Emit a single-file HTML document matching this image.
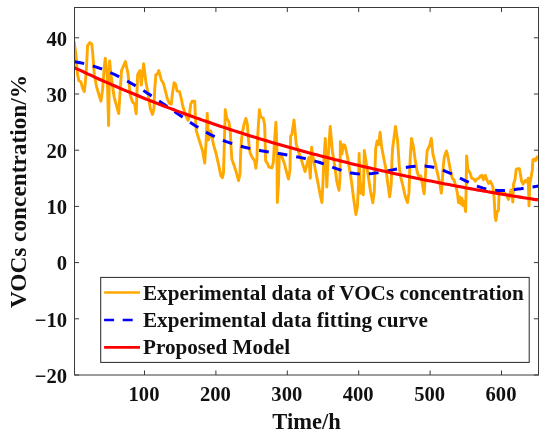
<!DOCTYPE html>
<html><head><meta charset="utf-8"><style>
html,body{margin:0;padding:0;background:#fff}
svg{display:block}
text{font-family:"Liberation Serif",serif;font-weight:bold;fill:#111}
</style></head><body>
<svg width="550" height="435" viewBox="0 0 550 435">
<rect width="550" height="435" fill="#fff"/>
<defs><clipPath id="c"><rect x="74.5" y="7.5" width="464.0" height="367.5"/></clipPath></defs>
<g clip-path="url(#c)" fill="none" stroke-linejoin="round" stroke-linecap="butt">
<path d="M74.1 41.2 L75.9 54.4 L77.4 73.5 L78.8 80.6 L81.0 82.0 L82.5 88.0 L84.3 91.6 L85.4 82.0 L86.5 67.0 L87.6 45.6 L89.9 42.6 L91.8 44.1 L92.8 54.4 L94.3 74.7 L96.5 86.5 L98.7 93.8 L100.9 101.2 L102.6 89.4 L104.1 68.8 L105.3 58.1 L107.2 75.0 L108.6 125.5 L109.6 61.0 L111.0 75.0 L114.1 96.8 L118.7 113.6 L121.5 70.6 L125.4 61.5 L128.0 73.5 L130.3 95.3 L132.5 102.0 L134.7 104.0 L136.2 113.7 L137.6 74.7 L139.9 70.6 L141.3 85.0 L143.6 63.8 L145.9 82.0 L148.1 93.8 L150.3 108.5 L152.5 114.4 L154.0 108.5 L154.7 89.4 L155.9 74.7 L157.6 74.0 L158.8 70.6 L160.3 76.2 L161.3 79.9 L163.5 83.5 L165.0 89.4 L167.2 98.2 L169.4 103.4 L171.3 104.1 L172.6 92.4 L174.1 82.8 L175.6 84.3 L177.1 90.9 L179.4 91.6 L181.2 98.2 L182.9 106.8 L185.9 115.6 L188.1 120.3 L189.4 115.0 L190.7 104.1 L192.2 101.2 L194.7 101.2 L195.4 117.0 L196.2 130.3 L198.8 138.8 L202.5 150.6 L204.7 163.1 L206.2 140.0 L207.2 113.4 L208.5 140.0 L210.8 131.0 L213.5 144.7 L215.7 152.1 L218.7 165.3 L220.9 175.6 L222.4 177.8 L223.5 172.6 L224.1 152.1 L225.3 109.7 L226.8 118.5 L228.8 121.5 L230.2 130.3 L231.2 150.0 L231.9 159.4 L234.1 165.3 L236.8 174.1 L238.5 180.7 L240.0 174.1 L240.7 152.1 L241.5 140.0 L242.5 131.8 L244.0 124.4 L245.9 118.5 L247.4 124.4 L248.4 139.1 L249.3 148.0 L250.3 153.5 L252.5 157.9 L254.7 160.9 L255.9 168.2 L256.9 159.4 L257.6 137.4 L259.4 109.7 L260.9 117.0 L263.1 117.8 L264.6 124.4 L265.3 147.0 L265.6 160.6 L267.5 163.5 L269.0 167.2 L271.9 167.9 L273.4 162.0 L274.1 147.4 L275.9 122.2 L276.9 147.4 L277.3 202.5 L278.5 184.0 L279.3 154.7 L280.7 154.0 L282.2 157.6 L284.4 163.5 L286.6 172.4 L288.5 179.0 L290.0 169.4 L290.4 147.0 L290.6 136.2 L291.8 134.7 L294.0 120.0 L295.4 134.7 L296.2 144.4 L299.1 153.2 L302.1 162.1 L305.0 171.6 L306.8 165.0 L308.7 157.6 L309.7 169.4 L310.3 178.2 L311.2 154.7 L311.6 147.2 L313.1 157.6 L315.3 169.4 L318.2 184.1 L320.4 195.9 L321.9 202.5 L322.9 184.1 L323.8 162.1 L325.3 138.4 L326.8 187.0 L328.0 160.0 L330.2 126.4 L332.4 151.2 L334.6 165.0 L336.8 181.5 L339.0 190.3 L340.0 177.0 L340.4 141.6 L341.9 154.1 L343.4 144.6 L344.9 145.3 L346.3 151.2 L347.8 158.5 L349.3 167.8 L351.5 181.5 L353.7 199.1 L355.9 214.6 L357.4 206.5 L358.5 184.4 L359.1 153.4 L360.0 177.0 L360.6 193.2 L362.0 185.0 L363.3 194.7 L364.3 150.4 L366.2 162.6 L368.4 177.0 L370.6 191.8 L372.8 202.8 L374.3 191.8 L375.0 169.0 L375.7 148.2 L377.2 140.9 L378.7 144.6 L380.1 132.1 L381.6 146.8 L383.8 158.5 L386.0 169.3 L387.5 181.5 L389.7 196.9 L391.2 184.4 L391.9 162.0 L392.6 148.2 L393.8 139.4 L395.5 126.4 L397.5 140.0 L398.5 154.0 L399.4 168.5 L400.9 178.0 L403.1 186.5 L405.3 196.8 L407.5 202.6 L409.0 192.4 L409.7 170.0 L410.3 156.8 L411.5 138.4 L413.4 146.5 L414.9 158.2 L417.1 171.5 L418.5 175.9 L420.7 175.9 L422.2 183.0 L424.1 193.8 L425.1 180.5 L425.9 167.0 L426.2 164.1 L427.1 150.9 L429.6 145.7 L431.3 138.4 L432.9 153.8 L435.4 164.1 L437.6 173.8 L439.9 184.0 L441.3 193.1 L442.4 180.5 L443.2 167.2 L444.3 156.8 L446.5 150.9 L448.2 158.2 L450.1 168.5 L452.4 178.8 L453.8 179.5 L456.0 186.5 L457.5 193.8 L458.5 202.6 L459.7 196.8 L460.9 204.1 L461.9 198.2 L462.9 205.6 L464.1 201.2 L465.6 211.5 L466.1 189.4 L466.6 156.0 L467.9 169.4 L470.1 173.1 L471.6 178.2 L473.8 179.0 L475.3 181.2 L476.8 179.0 L479.0 178.2 L480.4 176.0 L481.9 175.3 L483.4 179.7 L485.3 175.3 L487.1 180.4 L488.5 183.4 L490.3 181.2 L491.8 184.1 L492.9 187.0 L494.1 197.1 L495.1 216.2 L495.9 220.6 L497.1 211.8 L498.5 210.3 L499.1 192.0 L501.8 192.2 L504.7 192.9 L506.9 195.9 L508.4 199.5 L509.9 194.4 L510.9 190.0 L512.1 195.9 L512.8 202.0 L513.5 184.1 L515.0 179.7 L516.2 169.4 L517.6 168.7 L519.4 168.7 L520.6 175.3 L521.6 181.2 L523.1 184.1 L525.3 180.4 L526.8 181.9 L528.2 178.2 L529.0 205.9 L529.7 184.1 L531.2 176.8 L532.4 169.4 L532.9 159.9 L534.4 159.1 L535.6 160.6 L537.1 156.9 L538.5 158.4" stroke="#FFA800" stroke-width="2.9"/>
<path d="M74.5 61.8 L77.4 62.3 L80.3 62.8 L83.3 63.4 L86.2 64.1 L89.1 64.9 L92.0 65.7 L94.9 66.6 L97.8 67.6 L100.8 68.7 L103.7 69.8 L106.6 71.0 L109.5 72.2 L112.4 73.5 L115.4 74.9 L118.3 76.3 L121.2 77.8 L124.1 79.3 L127.0 80.9 L129.9 82.6 L132.9 84.2 L135.8 85.9 L138.7 87.7 L141.6 89.5 L144.5 91.3 L147.5 93.2 L150.4 95.1 L153.3 97.0 L156.2 98.9 L159.1 100.9 L162.0 102.9 L165.0 104.9 L167.9 106.9 L170.8 108.9 L173.7 111.0 L176.6 113.0 L179.6 115.1 L182.5 117.1 L185.4 119.1 L188.3 121.1 L191.2 123.0 L194.1 124.9 L197.1 126.8 L200.0 128.6 L202.9 130.4 L205.8 132.0 L208.7 133.6 L211.7 135.2 L214.6 136.6 L217.5 138.0 L220.4 139.3 L223.3 140.5 L226.2 141.6 L229.2 142.6 L232.1 143.6 L235.0 144.6 L237.9 145.4 L240.8 146.2 L243.8 147.0 L246.7 147.7 L249.6 148.4 L252.5 149.0 L255.4 149.6 L258.3 150.1 L261.3 150.7 L264.2 151.2 L267.1 151.7 L270.0 152.2 L272.9 152.7 L275.9 153.1 L278.8 153.6 L281.7 154.1 L284.6 154.6 L287.5 155.1 L290.4 155.6 L293.4 156.1 L296.3 156.7 L299.2 157.3 L302.1 157.9 L305.0 158.5 L308.0 159.2 L310.9 160.0 L313.8 160.8 L316.7 161.6 L319.6 162.5 L322.6 163.5 L325.5 164.5 L328.4 165.6 L331.3 166.7 L334.2 167.8 L337.1 168.9 L340.1 169.9 L343.0 170.9 L345.9 171.8 L348.8 172.5 L351.7 173.1 L354.7 173.5 L357.6 173.8 L360.5 174.0 L363.4 174.0 L366.3 174.0 L369.2 173.8 L372.2 173.5 L375.1 173.1 L378.0 172.7 L380.9 172.2 L383.8 171.7 L386.8 171.1 L389.7 170.5 L392.6 169.9 L395.5 169.3 L398.4 168.7 L401.3 168.2 L404.3 167.7 L407.2 167.2 L410.1 166.8 L413.0 166.5 L415.9 166.2 L418.9 166.1 L421.8 166.1 L424.7 166.1 L427.6 166.4 L430.5 166.8 L433.4 167.3 L436.4 168.0 L439.3 168.9 L442.2 169.9 L445.1 171.1 L448.0 172.3 L451.0 173.6 L453.9 175.0 L456.8 176.5 L459.7 177.9 L462.6 179.4 L465.5 180.8 L468.5 182.2 L471.4 183.6 L474.3 184.9 L477.2 186.1 L480.1 187.1 L483.1 188.1 L486.0 188.9 L488.9 189.5 L491.8 190.0 L494.7 190.3 L497.6 190.5 L500.6 190.6 L503.5 190.5 L506.4 190.4 L509.3 190.2 L512.2 189.9 L515.2 189.5 L518.1 189.1 L521.0 188.7 L523.9 188.2 L526.8 187.8 L529.7 187.3 L532.7 186.9 L535.6 186.4 L538.5 186.1" stroke="#0000FF" stroke-width="3" stroke-dasharray="9.8 9"/>
<path d="M73.8 67.4 L77.4 69.1 L81.0 70.7 L84.5 72.4 L88.1 74.1 L91.7 75.7 L95.2 77.3 L98.8 79.0 L102.4 80.6 L105.9 82.1 L109.5 83.7 L113.1 85.3 L116.7 86.8 L120.2 88.3 L123.8 89.9 L127.4 91.4 L130.9 92.8 L134.5 94.3 L138.1 95.8 L141.6 97.2 L145.2 98.7 L148.8 100.1 L152.4 101.5 L155.9 102.9 L159.5 104.3 L163.1 105.7 L166.6 107.1 L170.2 108.4 L173.8 109.7 L177.3 111.1 L180.9 112.4 L184.5 113.7 L188.1 115.0 L191.6 116.3 L195.2 117.6 L198.8 118.8 L202.3 120.1 L205.9 121.3 L209.5 122.5 L213.0 123.8 L216.6 125.0 L220.2 126.2 L223.8 127.4 L227.3 128.5 L230.9 129.7 L234.5 130.9 L238.0 132.0 L241.6 133.1 L245.2 134.3 L248.7 135.4 L252.3 136.5 L255.9 137.6 L259.5 138.7 L263.0 139.7 L266.6 140.8 L270.2 141.9 L273.7 142.9 L277.3 144.0 L280.9 145.0 L284.4 146.0 L288.0 147.0 L291.6 148.0 L295.2 149.0 L298.7 150.0 L302.3 151.0 L305.9 152.0 L309.4 152.9 L313.0 153.9 L316.6 154.8 L320.1 155.8 L323.7 156.7 L327.3 157.6 L330.9 158.5 L334.4 159.5 L338.0 160.3 L341.6 161.2 L345.1 162.1 L348.7 163.0 L352.3 163.9 L355.8 164.7 L359.4 165.6 L363.0 166.4 L366.6 167.3 L370.1 168.1 L373.7 168.9 L377.3 169.7 L380.8 170.5 L384.4 171.3 L388.0 172.1 L391.5 172.9 L395.1 173.7 L398.7 174.5 L402.3 175.2 L405.8 176.0 L409.4 176.7 L413.0 177.5 L416.5 178.2 L420.1 179.0 L423.7 179.7 L427.2 180.4 L430.8 181.1 L434.4 181.8 L438.0 182.5 L441.5 183.2 L445.1 183.9 L448.7 184.6 L452.2 185.3 L455.8 186.0 L459.4 186.6 L462.9 187.3 L466.5 188.0 L470.1 188.6 L473.7 189.2 L477.2 189.9 L480.8 190.5 L484.4 191.1 L487.9 191.8 L491.5 192.4 L495.1 193.0 L498.6 193.6 L502.2 194.2 L505.8 194.8 L509.4 195.4 L512.9 196.0 L516.5 196.5 L520.1 197.1 L523.6 197.7 L527.2 198.3 L530.8 198.8 L534.3 199.4 L537.9 199.9" stroke="#FF0000" stroke-width="3.1"/>
</g>
<g stroke="#3a3a3a" stroke-width="1" fill="none">
<rect x="74.5" y="7.5" width="464.0" height="367.5"/>
<path d="M144.5 375.0 v-4.6 M144.5 7.5 v4.6"/><path d="M215.9 375.0 v-4.6 M215.9 7.5 v4.6"/><path d="M287.3 375.0 v-4.6 M287.3 7.5 v4.6"/><path d="M358.7 375.0 v-4.6 M358.7 7.5 v4.6"/><path d="M430.1 375.0 v-4.6 M430.1 7.5 v4.6"/><path d="M501.5 375.0 v-4.6 M501.5 7.5 v4.6"/><path d="M74.5 37.8 h4.6 M538.5 37.8 h-4.6"/><path d="M74.5 94.0 h4.6 M538.5 94.0 h-4.6"/><path d="M74.5 150.2 h4.6 M538.5 150.2 h-4.6"/><path d="M74.5 206.4 h4.6 M538.5 206.4 h-4.6"/><path d="M74.5 262.6 h4.6 M538.5 262.6 h-4.6"/><path d="M74.5 318.8 h4.6 M538.5 318.8 h-4.6"/><path d="M74.5 375.0 h4.6 M538.5 375.0 h-4.6"/>
</g>
<g font-size="20.6"><text x="144.0" y="401.2" text-anchor="middle">100</text><text x="215.4" y="401.2" text-anchor="middle">200</text><text x="286.8" y="401.2" text-anchor="middle">300</text><text x="358.2" y="401.2" text-anchor="middle">400</text><text x="429.6" y="401.2" text-anchor="middle">500</text><text x="501.0" y="401.2" text-anchor="middle">600</text><text x="67" y="45.6" text-anchor="end">40</text><text x="67" y="101.8" text-anchor="end">30</text><text x="67" y="158.0" text-anchor="end">20</text><text x="67" y="214.2" text-anchor="end">10</text><text x="67" y="270.4" text-anchor="end">0</text><text x="67" y="326.6" text-anchor="end">−10</text><text x="67" y="382.8" text-anchor="end">−20</text></g>
<text x="306.5" y="429.2" font-size="22.5" text-anchor="middle">Time/h</text>
<text transform="translate(25.8,191.5) rotate(-90) scale(1.046,1)" font-size="22.3" text-anchor="middle">VOCs concentration/%</text>
<rect x="100.7" y="277.4" width="428.5" height="85" fill="#fff" stroke="#262626" stroke-width="1"/>
<g fill="none" stroke-width="2.2">
<path d="M104.1 292.4 h35.9" stroke="#FFA800" stroke-width="2.5"/>
<path d="M104.1 320 h35.9" stroke="#0000FF" stroke-dasharray="10 8.6" stroke-width="2.7"/>
<path d="M104.1 347.3 h35.9" stroke="#FF0000" stroke-width="2.7"/>
</g>
<g font-size="21.15">
<text x="143" y="299.6">Experimental data of VOCs concentration</text>
<text x="143" y="327.2">Experimental data fitting curve</text>
<text x="143" y="354.4">Proposed Model</text>
</g>
</svg>
</body></html>
